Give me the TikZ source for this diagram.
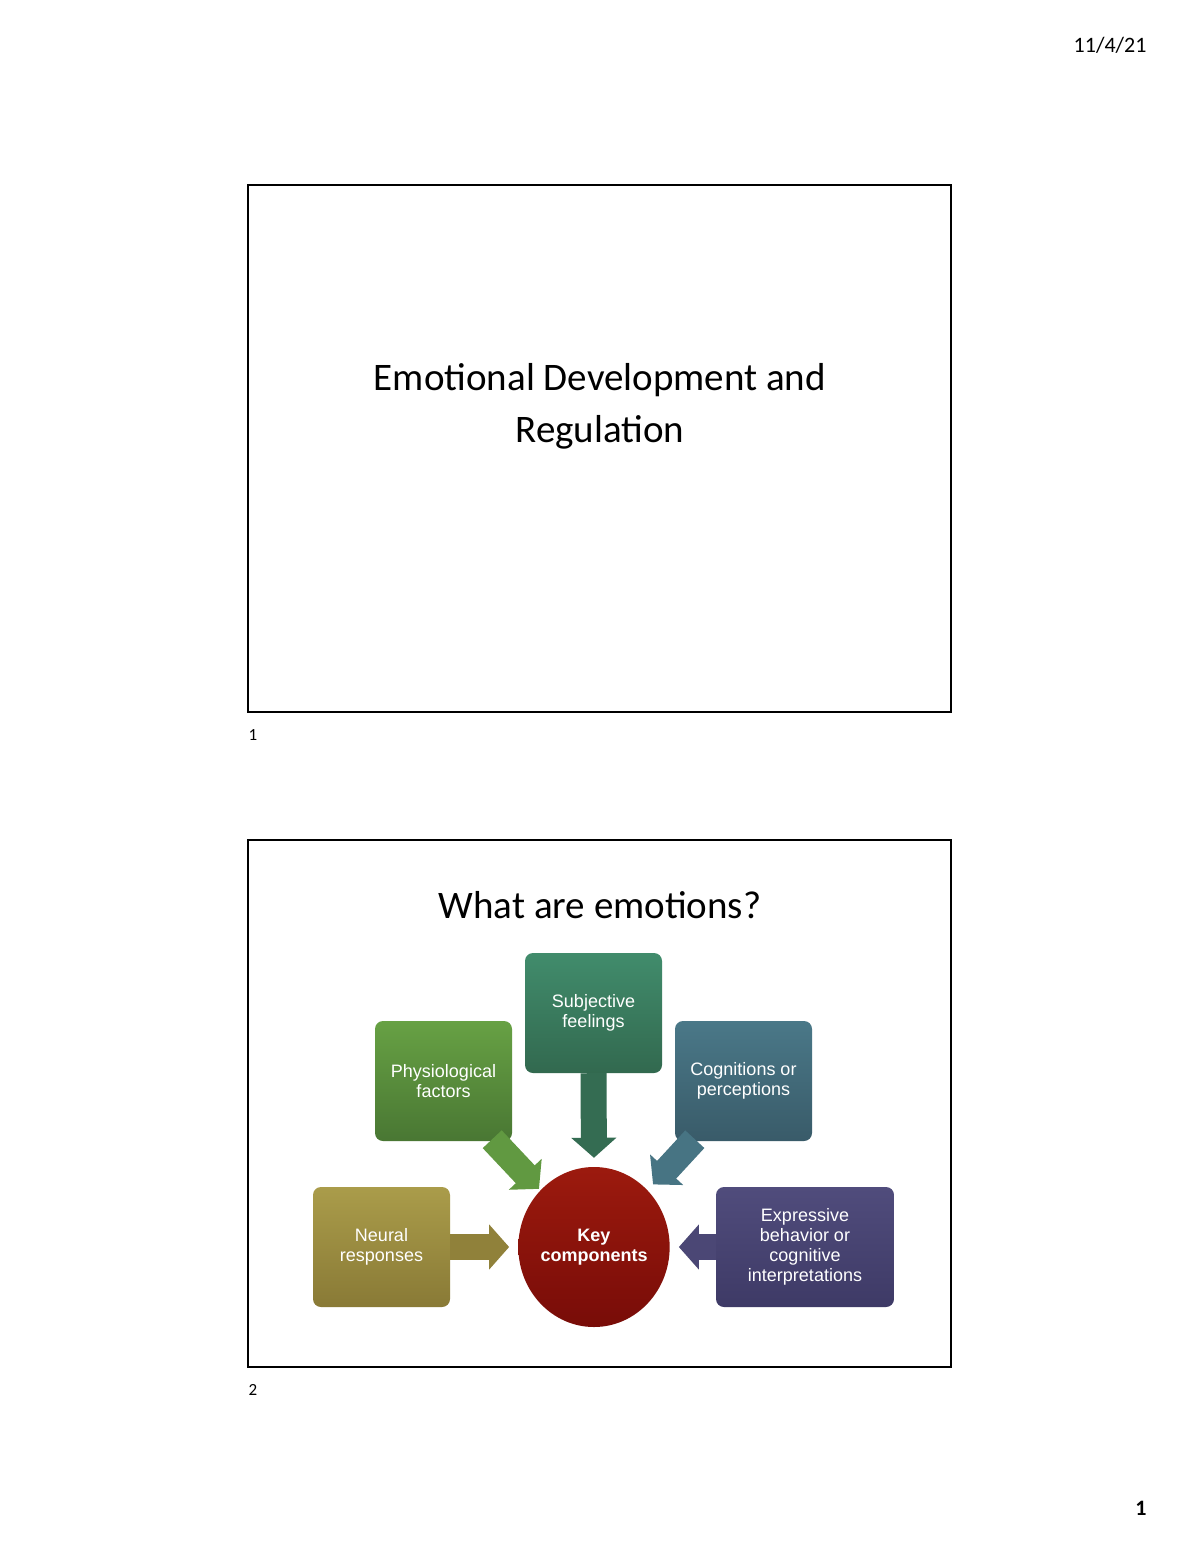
\documentclass[tikz,border=0pt]{standalone}
\usepackage{fontspec}
\setmainfont{Carlito}
\newfontfamily\boxfont{Liberation Sans}
\usetikzlibrary{shapes.geometric,arrows.meta}
\definecolor{subT}{HTML}{418C6C}\definecolor{subB}{HTML}{32694F}
\definecolor{phyT}{HTML}{67A144}\definecolor{phyB}{HTML}{497733}
\definecolor{cogT}{HTML}{4A7888}\definecolor{cogB}{HTML}{395B69}
\definecolor{neuT}{HTML}{AA9C4A}\definecolor{neuB}{HTML}{897A36}
\definecolor{expT}{HTML}{504C7C}\definecolor{expB}{HTML}{3E3A66}
\definecolor{keyT}{HTML}{9C1A0E}\definecolor{keyB}{HTML}{780C08}
\tikzset{
 compbox/.style={rounded corners=8pt, draw=none, align=center, text=white,
   font=\boxfont\fontsize{18}{20}\selectfont, inner sep=0pt},
 fatarrow/.style={line width=26pt, -{Triangle[length=20pt,width=44pt]}},
 slide/.style={draw=black, line width=2pt},
}
\begin{document}
\begin{tikzpicture}[x=1pt,y=-1pt]
\useasboundingbox (0,0) rectangle (1200,1553);
\fill[white] (0,0) rectangle (1200,1553);
\node[font=\fontsize{22}{26}\selectfont, anchor=east] (date) at (1150,45) {11/4/21};
\node[font=\bfseries\fontsize{22}{26}\selectfont, anchor=east] (pg) at (1150,1508) {1};
% slide 1
\draw[slide] (248,185) rectangle (951,712);
\node[font=\fontsize{39}{52}\selectfont, align=center] (t1) at (600,406) {Emotional Development and\\Regulation};
\node[font=\fontsize{17}{20}\selectfont, anchor=west] (n1) at (245,735) {1};
% slide 2
\draw[slide] (248,840) rectangle (951,1367);
\node[font=\fontsize{39}{46}\selectfont] (t2) at (600,905) {What are emotions?};
\node[font=\fontsize{17}{20}\selectfont, anchor=west] (n2) at (245,1390) {2};
% boxes
\node[compbox, minimum width=137pt, minimum height=120pt, top color=subT, bottom color=subB] (sub) at (593.5,1013) {Subjective\\feelings};
\node[compbox, minimum width=137pt, minimum height=120pt, top color=phyT, bottom color=phyB] (phy) at (443.5,1081) {Physiological\\factors};
\node[compbox, minimum width=137pt, minimum height=120pt, top color=cogT, bottom color=cogB] (cog) at (743.5,1081) {Cognitions or\\perceptions};
\node[compbox, minimum width=137pt, minimum height=120pt, top color=neuT, bottom color=neuB] (neu) at (381.5,1247) {Neural\\responses};
\node[compbox, minimum width=178pt, minimum height=120pt, top color=expT, bottom color=expB] (exp) at (805,1247) {Expressive\\behavior or\\cognitive\\interpretations};
\node[ellipse, minimum width=144pt, minimum height=160pt, inner sep=0pt, top color=keyT, bottom color=keyB, text=white, align=center, font=\boxfont\bfseries\fontsize{18}{20}\selectfont] (key) at (594,1247) {Key\\components};
% arrows
\draw[fatarrow, color=subB!90!subT, shorten >=9pt] (sub.south) -- (key.north);
\draw[fatarrow, color=phyT!80!phyB, shorten >=2pt] ([shift={(-20,-2)}]phy.south east) -- (key.north west);
\draw[fatarrow, color=cogT!85!cogB, shorten >=8pt] ([shift={(20,-2)}]cog.south west) -- (key.north east);
\draw[fatarrow, color=neuB!80!neuT, shorten >=9pt] (neu.east) -- (key.west);
\draw[fatarrow, color=expT!70!expB, shorten >=9pt] (exp.west) -- (key.east);
\end{tikzpicture}
\end{document}
